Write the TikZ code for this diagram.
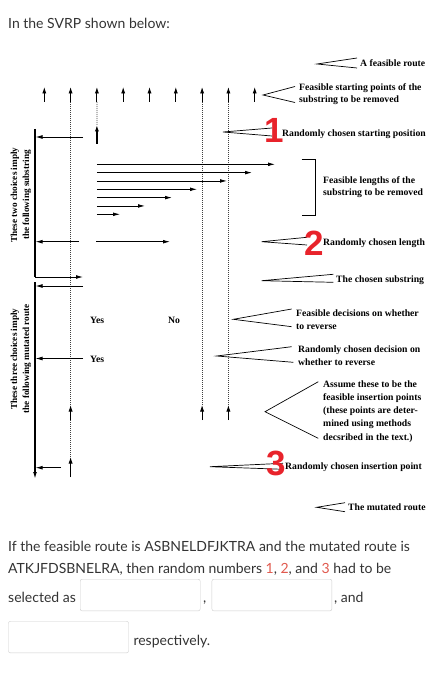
\documentclass[tikz,border=0pt]{standalone}
\usepackage{fontspec}
\setmainfont{Liberation Serif}
\newfontfamily\latofont{Lato}
\newfontfamily\digitfont{Liberation Sans}
\usetikzlibrary{arrows,arrows.meta}
\definecolor{txtgray}{HTML}{333333}
\definecolor{numred}{HTML}{E0594E}
\definecolor{bigred}{HTML}{E8232B}
\definecolor{boxgray}{HTML}{CCCCCC}

\begin{document}
\begin{tikzpicture}[x=1pt, y=-1pt]
\useasboundingbox (0,0) rectangle (442,676);

\tikzset{lbl/.style = {anchor=west, inner sep=0pt, align=left, font=\bfseries\fontsize{9.7}{12}\selectfont}}
\tikzset{side/.style = {rotate=90, inner sep=0pt, align=center, font=\bfseries\fontsize{9.2}{12}\selectfont}}
\tikzset{edge/.style = {-{Latex[length=7pt,width=3.8pt]}, line width=0.8pt}}
\tikzset{uparrow/.style = {-{Latex[length=6.5pt,width=4.2pt]}, line width=0.9pt}}
\tikzset{dots/.style = {dash pattern=on 0.8pt off 1.2pt, line width=0.7pt, black!75}}
\tikzset{callout/.style = {line width=0.7pt}}
\tikzset{bignum/.style = {inner sep=0pt, text=bigred, font=\digitfont\bfseries\fontsize{35}{35}\selectfont}}
\tikzset{answer/.style = {draw=boxgray, rounded corners=2pt, minimum width=120pt, minimum height=31.7pt, anchor=north west, inner sep=0pt}}
\tikzset{qtext/.style = {anchor=base west, inner sep=0pt, text=txtgray, font=\latofont\fontsize{14}{16}\selectfont}}

% title
\node[qtext] (title) at (8,29) {In the SVRP shown below:};

% feasible starting points
\foreach \i in {0,...,8} {
  \coordinate (b\i) at (44.3+26.3*\i,102);
  \coordinate (t\i) at (44.3+26.3*\i,87);
  \draw[uparrow] (b\i) -- (t\i);
}
% dotted columns
\coordinate (c1) at (70.6,405);
\coordinate (d1) at (70.6,420);
\coordinate (e1) at (70.6,457);
\coordinate (f1) at (70.6,477);
\draw[dots] (b1) -- (c1);
\draw[uparrow] (d1) -- (c1);
\draw[dots] (d1) -- (e1);
\draw[uparrow] (f1) -- (e1);
\coordinate (s2) at (96.9,125);
\coordinate (s2b) at (96.9,144);
\draw[dots] (b2) -- (s2);
\draw[uparrow, line width=1.4pt] (s2b) -- (s2);
\foreach \i in {6,7} {
  \coordinate (c\i) at (44.3+26.3*\i,405);
  \coordinate (d\i) at (44.3+26.3*\i,420);
  \draw[dots] (b\i) -- (c\i);
  \draw[uparrow] (d\i) -- (c\i);
}
% feasible lengths
\foreach \e [count=\k from 0] in {275,252,227,197,172,145,120} {
  \coordinate (ls\k) at (96.9,164.3+8.33*\k);
  \coordinate (le\k) at (\e,164.3+8.33*\k);
  \draw[edge] (ls\k) -- (le\k);
}

% left brackets
\coordinate (p1) at (35,129);
\coordinate (p2) at (35,277);
\coordinate (p3) at (83,277);
\draw[line width=1.2pt] (p1) -- (p2);
\draw[edge] (p2) -- (p3);
\coordinate (q1) at (83,137);
\coordinate (h1) at (35.5,137);
\draw[edge] (q1) -- (h1);
\coordinate (q2) at (79,241.7);
\coordinate (h2) at (35.5,241.7);
\draw[edge] (q2) -- (h2);
\coordinate (r1) at (96,241.7);
\coordinate (r2) at (170,241.7);
\draw[edge] (r1) -- (r2);
\coordinate (p4) at (35,282);
\coordinate (p5) at (35,479);
\draw[edge, line width=1.2pt] (p4) -- (p5);
\coordinate (q3) at (83,286);
\coordinate (h3) at (35.5,286);
\draw[edge] (q3) -- (h3);
\coordinate (q4) at (83,358.5);
\coordinate (h4) at (35.5,358.5);
\draw[edge] (q4) -- (h4);
\coordinate (q5) at (61,467.7);
\coordinate (h5) at (35.5,467.7);
\draw[edge] (q5) -- (h5);

\node[side] (imply1) at (21,195) {These two choices imply\\the following substring};
\node[side] (imply2) at (21,359) {These three choices imply\\the following mutated route};
\node[lbl] (yes1) at (90,320) {Yes};
\node[lbl] (no1) at (168,320) {No};
\node[lbl] (yes2) at (90,359) {Yes};

% labels
\node[lbl] (route) at (360,63) {A feasible route};
\node[lbl] (starts) at (299,94.5) {Feasible starting points of the\\substring to be removed};
\node[lbl] (start) at (282,134) {Randomly chosen starting position};
\node[lbl] (lengths) at (323,187.5) {Feasible lengths of the\\substring to be removed};
\node[lbl] (length) at (323,243) {Randomly chosen length};
\node[lbl] (chosen) at (336,280.7) {The chosen substring};
\node[lbl, font=\bfseries\fontsize{9.7}{13.3}\selectfont] (decs) at (296,319.5) {Feasible decisions on whether\\to reverse};
\node[lbl, font=\bfseries\fontsize{9.7}{13.3}\selectfont] (dec) at (298,356) {Randomly chosen decision on\\whether to reverse};
\node[lbl, font=\bfseries\fontsize{9.7}{13.1}\selectfont] (inserts) at (323,411.5) {Assume these to be the\\feasible insertion points\\(these points are deter-\\mined using methods\\decsribed in the text.)};
\node[lbl] (insert) at (285,467.3) {Randomly chosen insertion point};
\node[lbl] (mutated) at (348,507.3) {The mutated route};

% callouts
\coordinate (a1) at (317,64);
\draw[callout] ([shift={(-3,-5)}]route.west) -- (a1) -- ([shift={(-3,5)}]route.west);
\coordinate (a2) at (263,95);
\draw[callout] ([shift={(-4,-8)}]starts.west) -- (a2) -- ([shift={(-4,8)}]starts.west);
\coordinate (a3) at (223,132);
\draw[callout] ([shift={(-10,-6)}]start.west) -- (a3) -- ([shift={(-10,2)}]start.west);
\coordinate (br1) at (301.7,159);
\coordinate (br2) at (315,159);
\coordinate (br3) at (315,215);
\coordinate (br4) at (301.7,215);
\draw[callout] (br1) -- (br2) -- (br3) -- (br4);
\coordinate (a4) at (261.7,241.7);
\draw[callout] ([shift={(-16,-5.7)}]length.west) -- (a4) -- ([shift={(-16,2)}]length.west);
\coordinate (a5) at (261.7,280.7);
\draw[callout] ([shift={(-2.7,-6.4)}]chosen.west) -- (a5) -- ([shift={(-2.7,1.6)}]chosen.west);
\coordinate (a6) at (233.3,319.3);
\draw[callout] ([shift={(-4.3,-10.5)}]decs.west) -- (a6) -- ([shift={(-4.3,7.2)}]decs.west);
\coordinate (a7) at (216.7,356);
\draw[callout] ([shift={(-6.3,-9.3)}]dec.west) -- (a7) -- ([shift={(-4.7,6.3)}]dec.west);
\coordinate (a8) at (265,411.7);
\draw[callout] ([shift={(-4.7,-29.8)}]inserts.west) -- (a8) -- ([shift={(-4.7,26.8)}]inserts.west);
\coordinate (a9) at (210,466.7);
\draw[callout] ([shift={(-2,-4)}]insert.west) -- (a9) -- ([shift={(-2,2)}]insert.west);
\coordinate (a10) at (316.7,507.3);
\draw[callout] ([shift={(-3,-4.6)}]mutated.west) -- (a10) -- ([shift={(-3,4.4)}]mutated.west);

% random numbers
\node[bignum] (n1) at (274,130) {1};
\node[bignum] (n2) at (314.7,243) {2};
\node[bignum] (n3) at (276,463) {3};

% question
\node[qtext] (line1) at (8,551.5) {If the feasible route is ASBNELDFJKTRA and the mutated route is};
\node[qtext] (line2) at (8,573) {ATKJFDSBNELRA, then random numbers \textcolor{numred}{1}, \textcolor{numred}{2}, and \textcolor{numred}{3} had to be};
\node[qtext] (line3) at (8,602.5) {selected as};
\node[answer] (box1) at (80,579) {};
\node[qtext] (comma) at (203,602.5) {,};
\node[answer] (box2) at (211.7,579) {};
\node[qtext] (andtxt) at (334,602.5) {, and};
\node[answer] (box3) at (8.3,621) {};
\node[qtext] (resp) at (133.3,645.5) {respectively.};
\end{tikzpicture}
\end{document}
